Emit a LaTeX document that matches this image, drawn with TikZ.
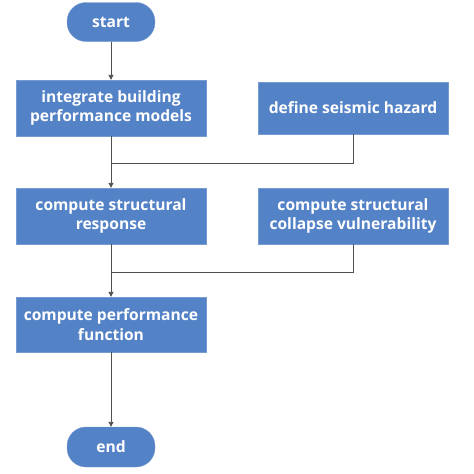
\documentclass[tikz,border=0pt]{standalone}
\usepackage{fontspec}
\setmainfont{Open Sans}
\usetikzlibrary{arrows.meta,positioning}

\begin{document}
\begin{tikzpicture}[x=1pt,y=-1pt]
		\definecolor{boxblue}{RGB}{84,130,198}
		\definecolor{linegray}{RGB}{80,80,80}
		\tikzstyle{Step}	= [rectangle, fill=boxblue, draw=boxblue!80!white, text=white, minimum width=190pt, minimum height=56pt, inner sep=2pt, align=center, font=\fontsize{15.6}{19.5}\selectfont\bfseries]
		\tikzstyle{Terminal}	= [rectangle, rounded corners=19pt, fill=boxblue, draw=boxblue!80!white, text=white, minimum width=88pt, minimum height=39pt, font=\fontsize{15.6}{19.5}\selectfont\bfseries]
		\tikzstyle{Flow}	= [draw=linegray, line width=0.9pt, -{Triangle[length=5pt,width=5pt]}]
		\tikzstyle{Join}	= [draw=linegray, line width=0.9pt]

		\useasboundingbox (0,0) rectangle (474,474);

		\node (start) at (111, 22) [Terminal] {start};
		\node (integrate) at (111, 108) [Step] {integrate building\\performance models};
		\node (hazard) at (353, 108) [Step, minimum height=52pt] {define seismic hazard};
		\node (response) at (111, 216) [Step] {compute structural\\response};
		\node (collapse) at (353, 216) [Step] {compute structural\\collapse vulnerability};
		\node (perf) at (111, 324.5) [Step, minimum height=55pt] {compute performance\\function};
		\node (end) at (111, 447) [Terminal, minimum height=40pt] {end};

		\coordinate (j1) at (111, 163);
		\coordinate (j2) at (111, 272);

		\draw [Flow] (start) to (integrate);
		\draw [Flow] (integrate) to (response);
		\draw [Join] (hazard.south) |- (j1);
		\draw [Flow] (response) to (perf);
		\draw [Join] (collapse.south) |- (j2);
		\draw [Flow] (perf) to (end);
	\end{tikzpicture}
\end{document}
